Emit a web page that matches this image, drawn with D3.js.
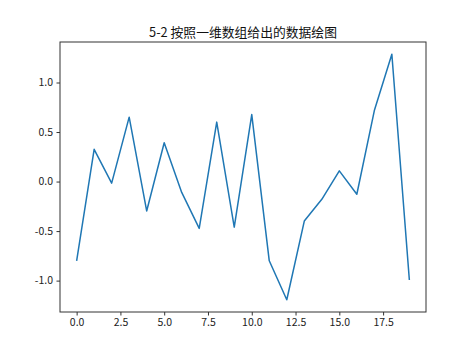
<!DOCTYPE html>
<html>
<head>
  <meta charset="utf-8">
  <script src="https://cdn.jsdelivr.net/npm/d3@7"></script>
  <style>
    body { margin: 0; background: #fff; }
    text { font-family: "Noto Sans CJK SC", "DejaVu Sans", sans-serif; }
  </style>
</head>
<body>
  <div id="chartDiv"></div>
  <script>
    var title = "5-2 按照一维数组给出的数据绘图";
    var xValues = [0, 1, 2, 3, 4, 5, 6, 7, 8, 9, 10, 11, 12, 13, 14, 15, 16, 17, 18, 19];
    var yValues = [-0.80, 0.325, -0.016, 0.65, -0.297, 0.392, -0.11, -0.473, 0.60, -0.46,
                   0.676, -0.80, -1.193, -0.399, -0.179, 0.108, -0.128, 0.717, 1.285, -0.994];
    var xTicks = [0, 2.5, 5, 7.5, 10, 12.5, 15, 17.5];
    var yTicks = [-1.0, -0.5, 0.0, 0.5, 1.0];

    var width = 474, height = 350;
    var margin = {top: 42, right: 48, bottom: 38, left: 60};

    var svg = d3.select("#chartDiv").append("svg")
        .attr("width", width)
        .attr("height", height);

    // matplotlib style 5% margins
    var xPad = (d3.max(xValues) - d3.min(xValues)) * 0.05;
    var yPad = (d3.max(yValues) - d3.min(yValues)) * 0.05;

    var x = d3.scaleLinear()
        .domain([d3.min(xValues) - xPad, d3.max(xValues) + xPad])
        .range([margin.left, width - margin.right]);

    var y = d3.scaleLinear()
        .domain([d3.min(yValues) - yPad, d3.max(yValues) + yPad])
        .range([height - margin.bottom, margin.top]);

    var line = d3.line()
        .x(function(d, i) { return x(xValues[i]); })
        .y(function(d) { return y(d); });

    svg.append("path")
        .datum(yValues)
        .attr("fill", "none")
        .attr("stroke", "#1f77b4")
        .attr("stroke-width", 1.5)
        .attr("stroke-linejoin", "round")
        .attr("d", line);

    // frame
    svg.append("rect")
        .attr("x", margin.left)
        .attr("y", margin.top)
        .attr("width", width - margin.left - margin.right)
        .attr("height", height - margin.top - margin.bottom)
        .attr("fill", "none")
        .attr("stroke", "#333")
        .attr("stroke-width", 1);

    var xAxis = svg.append("g")
        .attr("transform", "translate(0," + (height - margin.bottom) + ")")
        .call(d3.axisBottom(x).tickValues(xTicks).tickSize(3.5).tickPadding(3.5)
          .tickFormat(d3.format(".1f")));

    var yAxis = svg.append("g")
        .attr("transform", "translate(" + margin.left + ",0)")
        .call(d3.axisLeft(y).tickValues(yTicks).tickSize(3.5).tickPadding(3.5)
          .tickFormat(function(d) { return d3.format(".1f")(d).replace("−", "-"); }));

    [xAxis, yAxis].forEach(function(a) {
      a.select(".domain").remove();
      a.selectAll("line").attr("stroke", "#333");
      a.selectAll("text")
        .attr("fill", "#222")
        .style("font-size", "10.5px");
    });

    svg.append("text")
        .attr("x", (margin.left + width - margin.right) / 2)
        .attr("y", 37)
        .attr("text-anchor", "middle")
        .attr("fill", "#111")
        .style("font-size", "12.8px")
        .text(title);
  </script>
</body>
</html>
